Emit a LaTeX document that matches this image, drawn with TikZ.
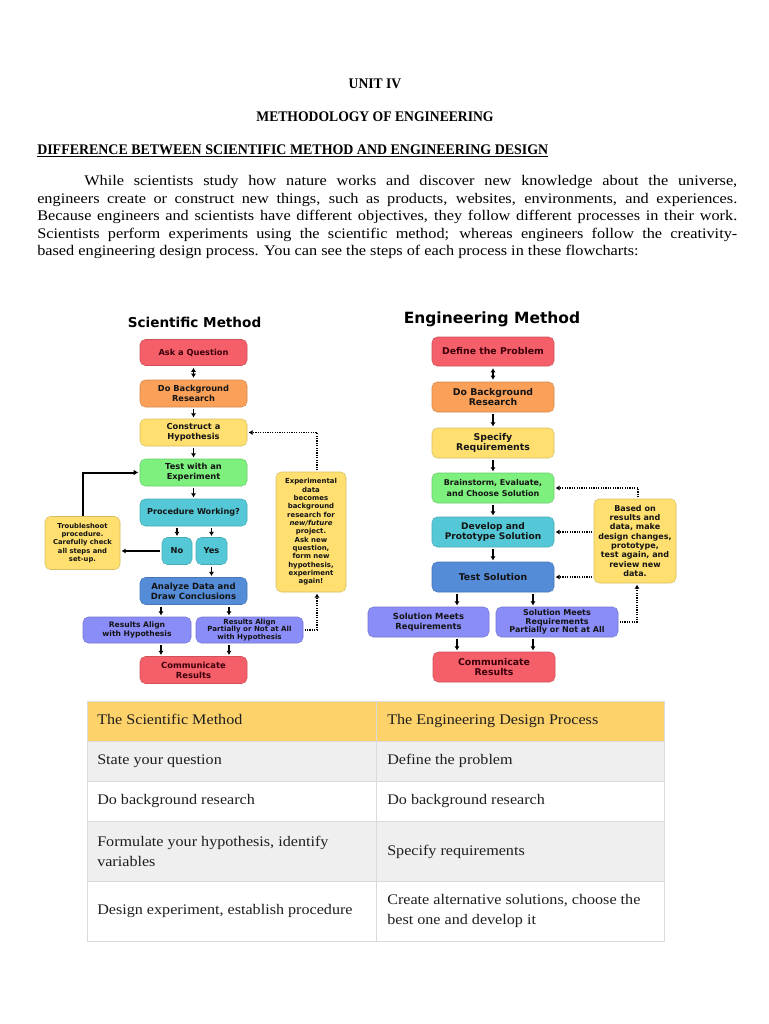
\documentclass[tikz,border=0pt]{standalone}
\usepackage{fontspec}
\setmainfont[FakeStretch=1.11]{Liberation Serif}
\newfontfamily\tabfont[FakeStretch=1.1]{Liberation Serif}
\newfontfamily\fcfont{DejaVu Sans}
\newfontfamily\hdfont[FakeStretch=0.93]{Liberation Serif}
\newfontfamily\hdwfont[FakeStretch=0.95]{Liberation Serif}
\usetikzlibrary{arrows.meta}
\definecolor{cRed}{RGB}{245,95,105}
\definecolor{cOrange}{RGB}{250,160,88}
\definecolor{cYellow}{RGB}{254,223,112}
\definecolor{cGreen}{RGB}{125,240,125}
\definecolor{cCyan}{RGB}{84,200,214}
\definecolor{cBlue}{RGB}{84,140,216}
\definecolor{cPeri}{RGB}{138,140,248}
\definecolor{cHead}{RGB}{253,210,107}
\definecolor{cRow}{RGB}{239,239,239}
\definecolor{cLine}{RGB}{218,218,218}
\definecolor{cTxt}{RGB}{30,30,30}
\definecolor{cRedTxt}{RGB}{60,0,10}
\begin{document}
\begin{tikzpicture}[x=0.75pt,y=-0.75pt,
  fcb/.style={rectangle, rounded corners=4pt, inner sep=1pt, align=center,
    fill=#1, draw=#1!85!black, line width=0.4pt, text=black!92},
  sz/.style 2 args={minimum width=#1*0.75pt, minimum height=#2*0.75pt},
  fs/.style 2 args={font=\fcfont\bfseries\fontsize{#1pt}{#2pt}\selectfont},
  arr/.style={-{Latex[length=3pt,width=3.8pt]}, line width=0.85pt, shorten <=1.5pt, shorten >=1pt},
  dblarr/.style={{Latex[length=3pt,width=3.8pt]}-{Latex[length=3pt,width=3.8pt]}, line width=0.85pt, shorten <=1.5pt, shorten >=1.5pt},
  thickarr/.style={-{Latex[length=3.5pt,width=4.2pt]}, line width=1.5pt, shorten >=1pt},
  dotarr/.style={-{Latex[length=3pt,width=3.8pt]}, line width=0.9pt, dash pattern=on 0.9pt off 0.9pt, shorten <=1pt, shorten >=1pt},
  hd/.style={inner sep=0pt, font=\hdfont\bfseries\fontsize{11}{13}\selectfont},
  body/.style={inner sep=0pt, anchor=base west, font=\fontsize{11}{13}\selectfont},
  tcell/.style={inner sep=0pt, font=\tabfont\fontsize{11}{15}\selectfont, text=cTxt, align=left},
]
\useasboundingbox (0,0) rectangle (768,1024);
\fill[white] (0,0) rectangle (768,1024);

% ---------- headings ----------
\node[hd, anchor=base] (unit) at (375,89) {UNIT IV};
\node[hd, anchor=base] (meth) at (375,121) {METHODOLOGY OF ENGINEERING};
\node[hd, anchor=base west, font=\hdwfont\bfseries\fontsize{11}{13}\selectfont] (diff) at (37,154) {\underline{DIFFERENCE BETWEEN SCIENTIFIC METHOD AND ENGINEERING DESIGN}};

\node[body] (p1) at (84,185) {\makebox[489.75pt][s]{While scientists study how nature works and discover new knowledge about the universe,}};
\node[body] (p2) at (37,203) {\makebox[525pt][s]{engineers create or construct new things, such as products, websites, environments, and experiences.}};
\node[body] (p3) at (37,220) {\makebox[525pt][s]{Because engineers and scientists have different objectives, they follow different processes in their work.}};
\node[body] (p4) at (37,238) {\makebox[525pt][s]{Scientists perform experiments using the scientific method; whereas engineers follow the creativity-}};
\node[body] (p5) at (37,255) {based engineering design process. You can see the steps of each process in these flowcharts:};

% ---------- Scientific method ----------
\node[fs={10.2}{11}] (t1) at (194.5,322) {Scientific Method};
\node[fcb=cRed, sz={107}{26}, fs={6.2}{7.2}, text=cRedTxt] (ask) at (193.5,352.5) {Ask a Question};
\node[fcb=cOrange, sz={107}{27}, fs={6.2}{7.2}] (bg1) at (193.5,393.5) {Do Background\\Research};
\node[fcb=cYellow, sz={107}{27}, fs={6.2}{7.2}] (hyp) at (193.5,432.5) {Construct a\\Hypothesis};
\node[fcb=cGreen, sz={107}{27}, fs={6.2}{7.2}] (test) at (193.5,472.5) {Test with an\\Experiment};
\node[fcb=cCyan, sz={107}{27}, fs={6.1}{7.2}] (proc) at (193.5,512.5) {Procedure Working?};
\node[fcb=cCyan, sz={30}{27}, fs={6.2}{7.2}] (no) at (177,551) {No};
\node[fcb=cCyan, sz={31}{27}, fs={6.2}{7.2}] (yes) at (211.5,551) {Yes};
\node[fcb=cBlue, sz={107}{27}, fs={6.4}{7.4}] (anal) at (193.5,591) {Analyze Data and\\Draw Conclusions};
\node[fcb=cPeri, sz={108}{26}, fs={5.7}{6.8}] (ra) at (137,630) {Results Align\\with Hypothesis};
\node[fcb=cPeri, sz={107}{26}, fs={5.3}{5.6}] (rp) at (249.5,630) {Results Align\\Partially or Not at All\\with Hypothesis};
\node[fcb=cRed, sz={107}{27}, fs={6.3}{7.3}, text=cRedTxt] (comm1) at (193.5,670) {Communicate\\Results};
\node[fcb=cYellow, sz={75}{53}, fs={5.1}{6.3}] (trouble) at (82.5,543) {Troubleshoot\\procedure.\\Carefully check\\all steps and\\set-up.};
\node[fcb=cYellow, sz={70}{120}, fs={5.2}{6.25}] (expd) at (311,532) {Experimental\\data\\becomes\\background\\research for\\\textit{new/future}\\project.\\Ask new\\question,\\form new\\hypothesis,\\experiment\\again!};

\coordinate (xL1) at (161,0);
\coordinate (xL2) at (229,0);
\coordinate (xE) at (317,0);

\draw[dblarr] (ask) -- (bg1);
\draw[arr] (bg1) -- (hyp);
\draw[arr] (hyp) -- (test);
\draw[arr] (test) -- (proc);
\draw[arr] (proc.south -| no) -- (no.north);
\draw[arr] (proc.south -| yes) -- (yes.north);
\draw[arr] (yes.south) -- (yes.south |- anal.north);
\draw[arr] (anal.south -| xL1) -- (ra.north -| xL1);
\draw[arr] (anal.south -| xL2) -- (rp.north -| xL2);
\draw[arr] (ra.south -| xL1) -- (comm1.north -| xL1);
\draw[arr] (rp.south -| xL2) -- (comm1.north -| xL2);
\draw[arr] (no.west) -- (no.west -| trouble.east);
\draw[thickarr] (trouble.north) |- (test.west);
\draw[dotarr] (expd.north -| xE) |- (hyp.east);
\draw[dotarr] (rp.east) -| (expd.south -| xE);

% ---------- Engineering method ----------
\node[fs={11.6}{13}] (t2) at (492,319) {Engineering Method};
\node[fcb=cRed, sz={122}{29}, fs={7}{8}, text=cRedTxt] (def) at (493,351.5) {Define the Problem};
\node[fcb=cOrange, sz={122}{30}, fs={7}{8}] (bg2) at (493,397) {Do Background\\Research};
\node[fcb=cYellow, sz={122}{30}, fs={7}{8}] (spec) at (493,443) {Specify\\Requirements};
\node[fcb=cGreen, sz={122}{30}, fs={6}{7.6}] (brain) at (493,488) {Brainstorm, Evaluate,\\and Choose Solution};
\node[fcb=cCyan, sz={122}{30}, fs={6.8}{8}] (dev) at (493,532) {Develop and\\Prototype Solution};
\node[fcb=cBlue, sz={122}{30}, fs={7}{8}] (tsol) at (493,577) {Test Solution};
\node[fcb=cPeri, sz={121}{30}, fs={6.3}{7.4}] (sm) at (428.5,622) {Solution Meets\\Requirements};
\node[fcb=cPeri, sz={122}{30}, fs={6}{6.3}] (sp) at (557,622) {Solution Meets\\Requirements\\Partially or Not at All};
\node[fcb=cRed, sz={122}{30}, fs={7}{8}, text=cRedTxt] (comm2) at (494,667) {Communicate\\Results};
\node[fcb=cYellow, sz={82}{84}, fs={6}{7}] (based) at (635,541) {Based on\\results and\\data, make\\design changes,\\prototype,\\test again, and\\review new\\data.};

\coordinate (xR1) at (457,0);
\coordinate (xR2) at (533,0);
\coordinate (xB) at (638,0);
\coordinate (xB2) at (637,0);

\draw[dblarr] (def) -- (bg2);
\draw[arr] (bg2) -- (spec);
\draw[arr] (spec) -- (brain);
\draw[arr] (brain) -- (dev);
\draw[arr] (dev) -- (tsol);
\draw[arr] (tsol.south -| xR1) -- (sm.north -| xR1);
\draw[arr] (tsol.south -| xR2) -- (sp.north -| xR2);
\draw[arr] (sm.south -| xR1) -- (comm2.north -| xR1);
\draw[arr] (sp.south -| xR2) -- (comm2.north -| xR2);
\draw[dotarr] (based.north -| xB) |- (brain.east);
\draw[dotarr] (based.west |- dev.east) -- (dev.east);
\draw[dotarr] (based.west |- tsol.east) -- (tsol.east);
\draw[dotarr] (sp.east) -| (based.south -| xB2);

% ---------- table ----------
\fill[cHead] (87,701) rectangle (664,741);
\fill[cRow] (87,741) rectangle (664,781);
\fill[cRow] (87,821) rectangle (664,881);
\draw[cLine, line width=0.6pt] (87,701) rectangle (664,941);
\foreach \yy in {741,781,821,881} \draw[cLine, line width=0.6pt] (87,\yy) -- (664,\yy);
\draw[cLine, line width=0.6pt] (376,701) -- (376,941);

\node[tcell, anchor=base west] (h1) at (97,724) {The Scientific Method};
\node[tcell, anchor=base west] (h2) at (387,724) {The Engineering Design Process};
\node[tcell, anchor=base west] (a1) at (97,764) {State your question};
\node[tcell, anchor=base west] (b1) at (387,764) {Define the problem};
\node[tcell, anchor=base west] (a2) at (97,804) {Do background research};
\node[tcell, anchor=base west] (b2) at (387,804) {Do background research};
\node[tcell, anchor=west] (a3) at (97,851) {Formulate your hypothesis, identify\\variables};
\node[tcell, anchor=base west] (b3) at (387,855) {Specify requirements};
\node[tcell, anchor=base west] (a4) at (97,914) {Design experiment, establish procedure};
\node[tcell, anchor=west] (b4) at (387,911) {Create alternative solutions, choose the\\best one and develop it};
\end{tikzpicture}
\end{document}
